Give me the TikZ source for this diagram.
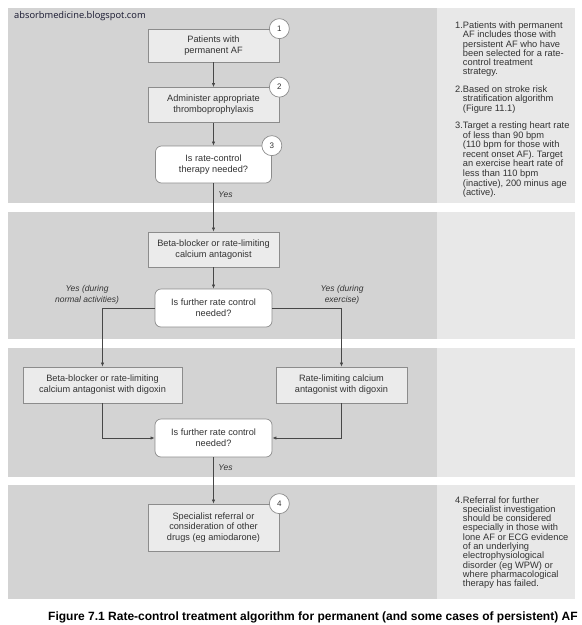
\documentclass[tikz,border=0pt]{standalone}
\usepackage{fontspec}
\setmainfont{Liberation Sans}
\newfontfamily\wmfont{Open Sans}
\usetikzlibrary{arrows.meta}
\definecolor{panelDark}{HTML}{D3D3D3}
\definecolor{panelLight}{HTML}{E8E8E8}
\definecolor{boxFill}{HTML}{EBEBEB}
\definecolor{boxLine}{HTML}{8C8C8C}
\definecolor{lineCol}{HTML}{474747}
\definecolor{txt}{HTML}{333333}
\definecolor{wmcol}{HTML}{16162E}
\begin{document}
\begin{tikzpicture}[x=1pt,y=-1pt,
  stepbox/.style={draw=boxLine, fill=boxFill, line width=0.7pt, align=center,
    font=\fontsize{9.2}{10.8}\selectfont, text=txt, inner sep=0pt},
  decision/.style={draw=boxLine, fill=white, line width=0.7pt, rounded corners=6pt,
    align=center, font=\fontsize{9.2}{10.8}\selectfont, text=txt, inner sep=0pt},
  numcirc/.style={circle, draw=boxLine, fill=white, line width=0.7pt, minimum size=20pt,
    inner sep=0pt, font=\fontsize{8}{8}\selectfont, text=txt},
  conn/.style={draw=lineCol, line width=0.6pt, -{Latex[length=4pt,width=3.2pt]}},
  note/.style={anchor=base west, inner sep=0pt, font=\fontsize{9.3}{8.6}\selectfont, text=txt},
  lab/.style={font=\itshape\fontsize{8.5}{11.5}\selectfont, align=center, text=txt, inner sep=0pt}
]
\useasboundingbox (0,0) rectangle (582,625);
\fill[white] (0,0) rectangle (582,625);
% panels
\fill[panelDark] (8,8) rectangle (437,203);
\fill[panelLight] (437,8) rectangle (575,203);
\fill[panelDark] (8,212) rectangle (437,339);
\fill[panelLight] (437,212) rectangle (575,339);
\fill[panelDark] (8,348) rectangle (437,477);
\fill[panelLight] (437,348) rectangle (575,477);
\fill[panelDark] (8,485) rectangle (437,599);
\fill[panelLight] (437,485) rectangle (575,599);

\node[anchor=base west, inner sep=0pt, text=wmcol, font=\wmfont\fontsize{9.3}{10}\selectfont] (wm) at (14,18.5) {absorbmedicine.blogspot.com};

% nodes
\node[stepbox, minimum width=131pt, minimum height=33pt] (b1) at (213.5,45.5) {Patients with\\permanent AF};
\node[stepbox, minimum width=131pt, minimum height=35pt] (b2) at (213.5,105) {Administer appropriate\\thromboprophylaxis};
\node[decision, minimum width=116pt, minimum height=37pt] (r3) at (213.5,164.5) {Is rate-control\\therapy needed?};
\node[stepbox, minimum width=131pt, minimum height=35pt] (b4) at (213.5,249.5) {Beta-blocker or rate-limiting\\calcium antagonist};
\node[decision, minimum width=117pt, minimum height=38pt] (r5) at (213.5,308) {Is further rate control\\needed?};
\node[stepbox, minimum width=159pt, minimum height=36pt] (b6) at (102.5,385) {Beta-blocker or rate-limiting\\calcium antagonist with digoxin};
\node[stepbox, minimum width=131pt, minimum height=36pt] (b7) at (341.5,385) {Rate-limiting calcium\\antagonist with digoxin};
\node[decision, minimum width=117pt, minimum height=38pt] (r8) at (213.5,438) {Is further rate control\\needed?};
\node[stepbox, minimum width=131pt, minimum height=47pt] (b9) at (213.5,527.5) {Specialist referral or\\consideration of other\\drugs (eg amiodarone)};

\node[numcirc] (c1) at (b1.north east) {1};
\node[numcirc] (c2) at (b2.north east) {2};
\node[numcirc] (c3) at (r3.north east) {3};
\node[numcirc] (c4) at (b9.north east) {4};

% connectors
\draw[conn] (b1) -- (b2);
\draw[conn] (b2) -- (r3);
\draw[conn] (r3) -- (b4);
\draw[conn] (b4) -- (r5);
\draw[conn] (r5.west) -| (b6.north);
\draw[conn] (r5.east) -| (b7.north);
\draw[conn] (b6.south) |- (r8.west);
\draw[conn] (b7.south) |- (r8.east);
\draw[conn] (r8) -- (b9);

% labels
\node[lab] (y1) at (225.5,195) {Yes};
\node[lab] (y2) at (87,295) {Yes (during\\normal activities)};
\node[lab] (y3) at (342,295) {Yes (during\\exercise)};
\node[lab] (y4) at (225.5,468) {Yes};

% notes
\node[note] (n1) at (455,28.5) {\begin{tabular}[t]{@{}l@{}l@{}}1.&Patients with permanent\\&AF includes those with\\&persistent AF who have\\&been selected for a rate-\\&control treatment\\&strategy.\end{tabular}};
\node[note] (n2) at (455,92.5) {\begin{tabular}[t]{@{}l@{}l@{}}2.&Based on stroke risk\\&stratification algorithm\\&(Figure 11.1)\end{tabular}};
\node[note, font=\fontsize{9.3}{9.6}\selectfont] (n3) at (455,128.5) {\begin{tabular}[t]{@{}l@{}l@{}}3.&Target a resting heart rate\\&of less than 90 bpm\\&(110 bpm for those with\\&recent onset AF). Target\\&an exercise heart rate of\\&less than 110 bpm\\&(inactive), 200 minus age\\&(active).\end{tabular}};
\node[note] (n4) at (455,503) {\begin{tabular}[t]{@{}l@{}l@{}}4.&Referral for further\\&specialist investigation\\&should be considered\\&especially in those with\\&lone AF or ECG evidence\\&of an underlying\\&electrophysiological\\&disorder (eg WPW) or\\&where pharmacological\\&therapy has failed.\end{tabular}};

\node[anchor=base west, inner sep=0pt, font=\bfseries\fontsize{12}{14}\selectfont, text=black] (cap) at (48,620) {Figure 7.1 Rate-control treatment algorithm for permanent (and some cases of persistent) AF};
\end{tikzpicture}
\end{document}
